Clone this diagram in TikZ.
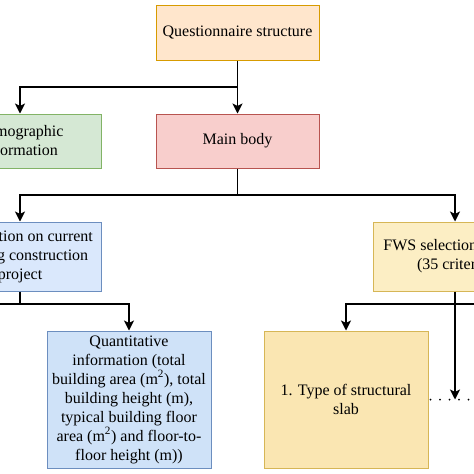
\documentclass[tikz,border=0pt]{standalone}
\usepackage{fontspec}
\setmainfont{Liberation Serif}
\usetikzlibrary{arrows.meta}
\definecolor{orangefill}{HTML}{FFE6CC}
\definecolor{orangeline}{HTML}{D79B00}
\definecolor{greenfill}{HTML}{D5E8D4}
\definecolor{greenline}{HTML}{82B366}
\definecolor{redfill}{HTML}{F8CECC}
\definecolor{redline}{HTML}{B85450}
\definecolor{bluefill}{HTML}{DAE8FC}
\definecolor{bluefilldark}{HTML}{CFE2F8}
\definecolor{blueline}{HTML}{6C8EBF}
\definecolor{yellowfill}{HTML}{FCEEC4}
\definecolor{yellowfilldark}{HTML}{FAE6B2}
\definecolor{yellowline}{HTML}{D6B656}
\begin{document}
\begin{tikzpicture}[x=1pt, y=-1pt,
    box/.style={draw, line width=1pt, align=center, minimum width=163pt, inner sep=2pt,
        font=\fontsize{16}{19}\selectfont},
    orangebox/.style={box, fill=orangefill, draw=orangeline},
    greenbox/.style={box, fill=greenfill, draw=greenline},
    redbox/.style={box, fill=redfill, draw=redline},
    bluebox/.style={box, fill=bluefill, draw=blueline},
    yellowbox/.style={box, fill=yellowfill, draw=yellowline},
    conn/.style={line width=1.3pt, -{Stealth[length=10pt, width=10pt, inset=2.5pt]}},
    line/.style={line width=1.3pt}]
    \clip (0,0) rectangle (474,474);
    \fill[white] (0,0) rectangle (474,474);
    \node[orangebox, minimum height=55pt] (quest) at (237.5,32.5) {Questionnaire structure};
    \node[greenbox, minimum height=54pt] (demo) at (20,141) {Demographic\\information};
    \node[redbox, minimum height=54pt] (main) at (237.5,141) {Main body};
    \node[bluebox, minimum height=69pt] (info) at (20,256.5) {Information on current\\building construction\\project};
    \node[yellowbox, minimum height=69pt] (fws) at (455,256.5) {FWS selection criteria\\(35 criteria)};
    \node[bluebox, minimum height=137pt, minimum width=164pt, fill=bluefilldark] (quant) at (129,399.5)
        {Quantitative\\information (total\\building area (m\textsuperscript{2}), total\\building height (m),\\typical building floor\\area (m\textsuperscript{2}) and floor-to-\\floor height (m))};
    \node[yellowbox, minimum height=137pt, minimum width=164pt, fill=yellowfilldark] (slab) at (346,399.5) {1. Type of structural\\slab};
    \coordinate (split1) at (237.5,87);
    \coordinate (split2) at (237.5,195);
    \coordinate (split3) at (20,304);
    \coordinate (split4) at (455,304);
    \coordinate (leftend) at (-10,304);
    \coordinate (rightend) at (484,304);
    \coordinate (dots) at (455,399.5);
    \coordinate (dotsend) at (484,399.5);
    \draw[conn] (quest.south) -- (main.north);
    \draw[conn] (split1) -| (demo.north);
    \draw[line] (main.south) -- (split2);
    \draw[conn] (split2) -| (info.north);
    \draw[conn] (split2) -| (fws.north);
    \draw[line] (info.south) -- (split3);
    \draw[line] (split3) -- (leftend);
    \draw[conn] (split3) -| (quant.north);
    \draw[conn] (fws.south) -- (dots);
    \draw[conn] (split4) -| (slab.north);
    \draw[line] (split4) -- (rightend);
    \draw[line cap=round, line width=2pt, dash pattern=on 0pt off 9.5pt] (slab.east) ++(2,0) -- (dotsend);
\end{tikzpicture}
\end{document}
